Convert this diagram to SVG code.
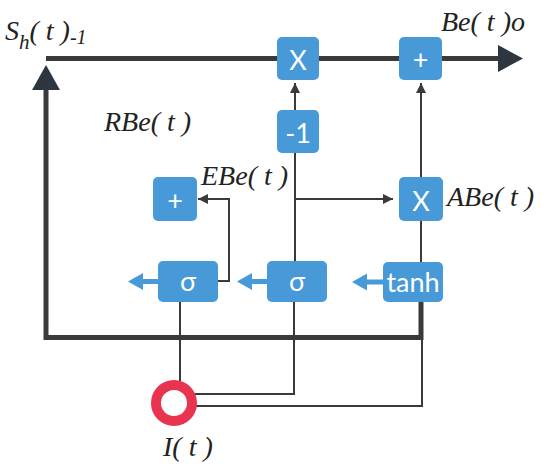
<svg xmlns="http://www.w3.org/2000/svg" width="550" height="469" viewBox="0 0 550 469">
<defs>
<style>
.box{fill:#4899d8}
.bt{fill:#ffffff;font-family:Lato,"Open Sans",sans-serif;font-size:27px;text-anchor:middle;dominant-baseline:central}
.thin{stroke:#3a3a3a;stroke-width:2;fill:none}
.thick{stroke:#3a3a3a;stroke-width:5;fill:none}
.blue{stroke:#4899d8;stroke-width:5;fill:none}
.bh{fill:#4899d8}
.lbl{font-family:"Liberation Serif",serif;font-style:italic;fill:#222;font-size:28px}
</style>
<marker id="ah" viewBox="0 0 10 10" refX="10" refY="5" markerWidth="5" markerHeight="5" markerUnits="strokeWidth" orient="auto">
<path d="M0,0 L10,5 L0,10 z" fill="#3a3a3a"/>
</marker>
</defs>
<g id="connectors">
<line class="thick" x1="46" y1="58.5" x2="500" y2="58.5"/>
<polygon points="498,45 523,58.5 498,72" fill="#2e3640"/>
<polyline class="thick" points="46,88 46,337.5 421,337.5 421,302"/>
<polygon points="32,90 46,65 60,90" fill="#2e3640"/>
<line class="thin" x1="295" y1="261" x2="295" y2="153"/>
<line class="thin" x1="295" y1="110" x2="295" y2="83" marker-end="url(#ah)"/>
<line class="thin" x1="295" y1="199" x2="393" y2="199" marker-end="url(#ah)"/>
<line class="thin" x1="421" y1="262" x2="421" y2="221"/>
<line class="thin" x1="421" y1="177" x2="421" y2="83" marker-end="url(#ah)"/>
<polyline class="thin" points="218,281 229,281 229,199 198,199" marker-end="url(#ah)"/>
<line class="thin" x1="180" y1="302" x2="180" y2="381"/>
<polyline class="thin" points="190,394 294,394 294,302"/>
<polyline class="thin" points="190,406 422,406 422,340"/>
<line class="blue" x1="158" y1="281.5" x2="141" y2="281.5"/>
<polygon class="bh" points="143,273 128,281.5 143,290"/>
<line class="blue" x1="267" y1="281.5" x2="250" y2="281.5"/>
<polygon class="bh" points="252,273 237,281.5 252,290"/>
<line class="blue" x1="383" y1="282" x2="365" y2="282"/>
<polygon class="bh" points="367,273.5 352,282 367,290.5"/>
</g>
<g id="mulTop"><rect class="box" x="277" y="37" width="42" height="43" rx="5"/><text class="bt" x="298" y="59">X</text></g>
<g id="addTop"><rect class="box" x="399" y="37" width="43" height="43" rx="5"/><text class="bt" x="420.5" y="58">+</text></g>
<g id="neg1"><rect class="box" x="277" y="110" width="42" height="43" rx="5"/><text class="bt" x="298" y="132">-1</text></g>
<g id="addSmall"><rect class="box" x="153" y="177" width="44" height="44" rx="5"/><text class="bt" x="175" y="199">+</text></g>
<g id="mulRight"><rect class="box" x="399" y="177" width="44" height="44" rx="5"/><text class="bt" x="421" y="200">X</text></g>
<g id="sigmaLeft"><rect class="box" x="158" y="261" width="60" height="41" rx="5"/><text class="bt" x="188" y="280">σ</text></g>
<g id="sigmaMid"><rect class="box" x="267" y="261" width="60" height="41" rx="5"/><text class="bt" x="297" y="280">σ</text></g>
<g id="tanh"><rect class="box" x="383" y="262" width="60" height="40" rx="5"/><text class="bt" x="413" y="281">tanh</text></g>
<g id="input"><circle cx="174" cy="403" r="18" fill="none" stroke="#e8344f" stroke-width="10"/></g>
<g id="labels">
<text class="lbl" x="5" y="40">S<tspan font-size="21" dy="9">h</tspan><tspan dy="-9">( t )</tspan><tspan font-size="20" dy="4">-1</tspan></text>
<text class="lbl" x="104" y="131">RBe( t )</text>
<text class="lbl" x="201" y="185">EBe( t )</text>
<text class="lbl" x="447" y="206">ABe( t )</text>
<text class="lbl" x="441" y="31">Be( t )o</text>
<text class="lbl" x="163" y="456">I( t )</text>
</g>
</svg>
